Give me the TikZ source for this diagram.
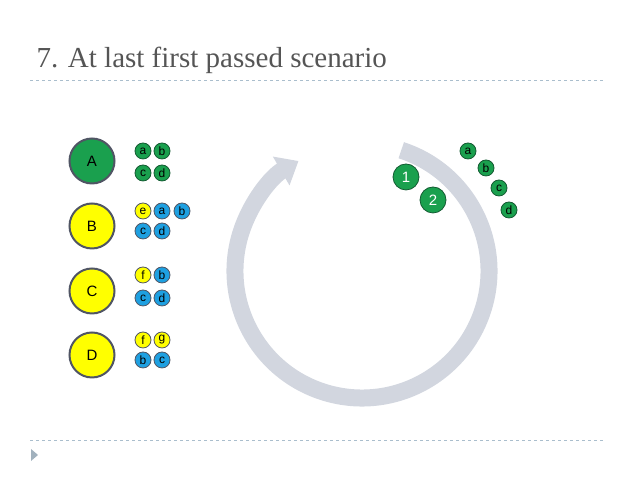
\documentclass[tikz,border=0pt]{standalone}
\usepackage{fontspec}
\setmainfont{Liberation Sans}
\newfontfamily\titlefont{Liberation Serif}
\usetikzlibrary{arrows.meta}
\definecolor{grn}{RGB}{26,160,78}
\definecolor{grnd}{RGB}{20,90,50}
\definecolor{yel}{RGB}{255,255,0}
\definecolor{blu}{RGB}{30,160,225}
\definecolor{bord}{RGB}{80,85,100}
\definecolor{ringc}{RGB}{210,214,223}
\definecolor{dashc}{RGB}{170,190,205}
\definecolor{ttl}{RGB}{85,85,85}
\begin{document}
\begin{tikzpicture}[x=1pt,y=1pt,
  big/.style={circle,draw=bord,line width=2pt,minimum size=45pt,inner sep=0pt,font=\fontsize{15}{15}\selectfont},
  sm/.style={circle,line width=0.8pt,minimum size=16pt,inner sep=0pt,font=\fontsize{12}{12}\selectfont},
  sg/.style={sm,fill=grn,draw=grnd},
  sy/.style={sm,fill=yel,draw=bord},
  sb/.style={sm,fill=blu,draw=bord},
  mg/.style={circle,fill=grn,draw=grnd,line width=0.8pt,minimum size=26pt,inner sep=0pt,text=white,font=\fontsize{15}{15}\selectfont},
  dl/.style={draw=dashc,dashed,line width=0.6pt}]
\useasboundingbox (0,0) rectangle (638,478);
\node[anchor=base west,text=ttl,font=\titlefont\fontsize{29}{29}\selectfont] (title) at (33,410) {7. At last first passed scenario};
\coordinate (l1) at (30,398); \coordinate (r1) at (605,398);
\draw[dl] (l1) -- (r1);
\coordinate (l2) at (30,38); \coordinate (r2) at (605,38);
\draw[dl] (l2) -- (r2);
\fill[dashc!80!gray] (31,29) -- (38,23) -- (31,17) -- cycle;
% ring
\coordinate (cc) at (362,207);
\draw[ringc,line width=17pt,-{Triangle[width=32pt,length=20pt]}] (cc) ++(72:127) arc[start angle=72,end angle=-240,radius=127];
% left
\node[big,fill=grn] (A) at (92,317) {A};
\node[big,fill=yel] (B) at (92,252) {B};
\node[big,fill=yel] (C) at (92,187) {C};
\node[big,fill=yel] (D) at (92,123) {D};
\node[sg] (Aa) at (143,327) {a}; \node[sg] (Ab) at (162,327) {b};
\node[sg] (Ac) at (143,305) {c}; \node[sg] (Ad) at (162,305) {d};
\node[sy] (Be) at (143,267) {e}; \node[sb] (Ba) at (162,267) {a}; \node[sb] (Bb) at (182,267) {b};
\node[sb] (Bc) at (143,247) {c}; \node[sb] (Bd) at (162,247) {d};
\node[sy] (Cf) at (143,203) {f}; \node[sb] (Cb) at (162,203) {b};
\node[sb] (Cc) at (143,180) {c}; \node[sb] (Cd) at (162,180) {d};
\node[sy] (Df) at (143,138) {f}; \node[sy] (Dg) at (162,138) {g};
\node[sb] (Db) at (143,118) {b}; \node[sb] (Dc) at (162,118) {c};
% right
\node[mg] (n1) at (406,301) {1};
\node[mg] (n2) at (433,278) {2};
\node[sg] (ra) at (468,327) {a};
\node[sg] (rb) at (486,310) {b};
\node[sg] (rc) at (499,290) {c};
\node[sg] (rd) at (509,268) {d};
\end{tikzpicture}
\end{document}
